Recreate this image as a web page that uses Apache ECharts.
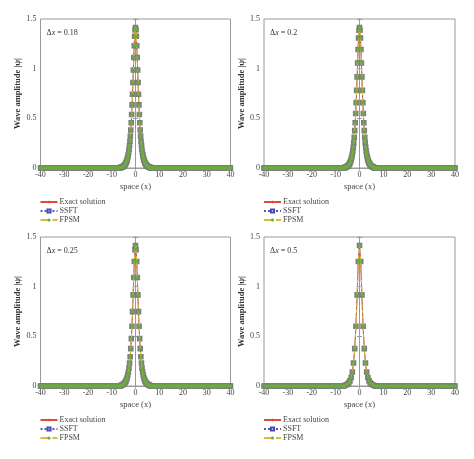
<!DOCTYPE html>
<html><head><meta charset="utf-8">
<script src="https://cdn.jsdelivr.net/npm/echarts@6/dist/echarts.min.js"></script>
<style>html,body{margin:0;padding:0;background:#fff}#c{width:474px;height:459px}</style>
</head><body><div id="c"></div>
<script>
// Sample grid per panel (start, step) and labels
const gridStarts = [-39.96, -40, -40, -40];
const gridSteps = [0.18, 0.2, 0.25, 0.5];
const stepLabels = ['0.18', '0.2', '0.25', '0.5'];
const seriesNames = ['Exact solution', 'SSFT', 'FPSM'];
const xTicks = [-40, -30, -20, -10, 0, 10, 20, 30, 40];
const yTicks = [0, 0.5, 1, 1.5];

// Wave amplitude |psi| (dx = 0.18)
const amp018 = [
0,0,0,0,0,0,0,0,0,0,0,0,0,0,0,0,0,0,0,0,
0,0,0,0,0,0,0,0,0,0,0,0,0,0,0,0,0,0,0,0,
0,0,0,0,0,0,0,0,0,0,0,0,0,0,0,0,0,0,0,0,
0,0,0,0,0,0,0,0,0,0,0,0,0,0,0,0,0,0,0,0,
0,0,0,0,0,0,0,0,0,0,0,0,0,0,0,0,0,0,0,0,
0,0,0,0,0,0,0,0,0,0,0,0,0,0,0,0,0,0,0,0,
0,0,0,0,0,0,0,0,0,0,0,0,0,0,0,0,0,0,0,0,
0,0,0,0,0,0,0,0,0,0,0,0,0,0,0,0,0,0,0,0,
0,0,0,0,0,0,0,0,0,0,0,0,0,0,0,0,0,0,0,0,
0,0,0,0,0,0,0,
0.005,0.006,0.007,0.009,0.011,0.013,0.015,0.018,0.022,0.026,0.031,0.038,0.045,0.054,0.065,0.077,0.092,0.111,0.132,0.158,0.189,0.226,0.270,0.322,0.383,0.455,0.539,0.635,0.743,0.861,0.987,1.113,1.230,1.327,1.392,
1.414,
1.392,1.327,1.230,1.113,0.987,0.861,0.743,0.635,0.539,0.455,0.383,0.322,0.270,0.226,0.189,0.158,0.132,0.111,0.092,0.077,0.065,0.054,0.045,0.038,0.031,0.026,0.022,0.018,0.015,0.013,0.011,0.009,0.007,0.006,0.005,
0,0,0,0,0,0,0,0,0,0,0,0,0,0,0,0,0,0,0,0,
0,0,0,0,0,0,0,0,0,0,0,0,0,0,0,0,0,0,0,0,
0,0,0,0,0,0,0,0,0,0,0,0,0,0,0,0,0,0,0,0,
0,0,0,0,0,0,0,0,0,0,0,0,0,0,0,0,0,0,0,0,
0,0,0,0,0,0,0,0,0,0,0,0,0,0,0,0,0,0,0,0,
0,0,0,0,0,0,0,0,0,0,0,0,0,0,0,0,0,0,0,0,
0,0,0,0,0,0,0,0,0,0,0,0,0,0,0,0,0,0,0,0,
0,0,0,0,0,0,0,0,0,0,0,0,0,0,0,0,0,0,0,0,
0,0,0,0,0,0,0,0,0,0,0,0,0,0,0,0,0,0,0,0,
0,0,0,0,0,0,0
];

// dx = 0.2
const amp02 = [
0,0,0,0,0,0,0,0,0,0,0,0,0,0,0,0,0,0,0,0,
0,0,0,0,0,0,0,0,0,0,0,0,0,0,0,0,0,0,0,0,
0,0,0,0,0,0,0,0,0,0,0,0,0,0,0,0,0,0,0,0,
0,0,0,0,0,0,0,0,0,0,0,0,0,0,0,0,0,0,0,0,
0,0,0,0,0,0,0,0,0,0,0,0,0,0,0,0,0,0,0,0,
0,0,0,0,0,0,0,0,0,0,0,0,0,0,0,0,0,0,0,0,
0,0,0,0,0,0,0,0,0,0,0,0,0,0,0,0,0,0,0,0,
0,0,0,0,0,0,0,0,0,0,0,0,0,0,0,0,0,0,0,0,
0,0,0,0,0,0,0,0,0,0,
0.007,0.009,0.011,0.013,0.016,0.019,0.023,0.028,0.035,0.042,0.052,0.063,0.077,0.094,0.115,0.141,0.171,0.209,0.255,0.310,0.376,0.455,0.549,0.658,0.781,0.917,1.057,1.193,1.308,1.386,
1.414,
1.386,1.308,1.193,1.057,0.917,0.781,0.658,0.549,0.455,0.376,0.310,0.255,0.209,0.171,0.141,0.115,0.094,0.077,0.063,0.052,0.042,0.035,0.028,0.023,0.019,0.016,0.013,0.011,0.009,0.007,
0,0,0,0,0,0,0,0,0,0,0,0,0,0,0,0,0,0,0,0,
0,0,0,0,0,0,0,0,0,0,0,0,0,0,0,0,0,0,0,0,
0,0,0,0,0,0,0,0,0,0,0,0,0,0,0,0,0,0,0,0,
0,0,0,0,0,0,0,0,0,0,0,0,0,0,0,0,0,0,0,0,
0,0,0,0,0,0,0,0,0,0,0,0,0,0,0,0,0,0,0,0,
0,0,0,0,0,0,0,0,0,0,0,0,0,0,0,0,0,0,0,0,
0,0,0,0,0,0,0,0,0,0,0,0,0,0,0,0,0,0,0,0,
0,0,0,0,0,0,0,0,0,0,0,0,0,0,0,0,0,0,0,0,
0,0,0,0,0,0,0,0,0,0
];

// dx = 0.25
const amp025 = [
0,0,0,0,0,0,0,0,0,0,0,0,0,0,0,0,0,0,0,0,
0,0,0,0,0,0,0,0,0,0,0,0,0,0,0,0,0,0,0,0,
0,0,0,0,0,0,0,0,0,0,0,0,0,0,0,0,0,0,0,0,
0,0,0,0,0,0,0,0,0,0,0,0,0,0,0,0,0,0,0,0,
0,0,0,0,0,0,0,0,0,0,0,0,0,0,0,0,0,0,0,0,
0,0,0,0,0,0,0,0,0,0,0,0,0,0,0,0,0,0,0,0,
0,0,0,0,0,0,0,0,0,0,0,0,0,0,0,0,
0.007,0.009,0.012,0.015,0.019,0.025,0.031,0.040,0.052,0.067,0.085,0.110,0.141,0.180,0.231,0.295,0.376,0.477,0.601,0.749,0.917,1.092,1.254,1.371,
1.414,
1.371,1.254,1.092,0.917,0.749,0.601,0.477,0.376,0.295,0.231,0.180,0.141,0.110,0.085,0.067,0.052,0.040,0.031,0.025,0.019,0.015,0.012,0.009,0.007,
0,0,0,0,0,0,0,0,0,0,0,0,0,0,0,0,0,0,0,0,
0,0,0,0,0,0,0,0,0,0,0,0,0,0,0,0,0,0,0,0,
0,0,0,0,0,0,0,0,0,0,0,0,0,0,0,0,0,0,0,0,
0,0,0,0,0,0,0,0,0,0,0,0,0,0,0,0,0,0,0,0,
0,0,0,0,0,0,0,0,0,0,0,0,0,0,0,0,0,0,0,0,
0,0,0,0,0,0,0,0,0,0,0,0,0,0,0,0,0,0,0,0,
0,0,0,0,0,0,0,0,0,0,0,0,0,0,0,0
];

// dx = 0.5
const amp05 = [
0,0,0,0,0,0,0,0,0,0,0,0,0,0,0,0,0,0,0,0,
0,0,0,0,0,0,0,0,0,0,0,0,0,0,0,0,0,0,0,0,
0,0,0,0,0,0,0,0,0,0,0,0,0,0,0,0,0,0,0,0,
0,0,0,0,0,0,0,0,
0.007,0.012,0.019,0.031,0.052,0.085,0.141,0.231,0.376,0.601,0.917,1.254,
1.414,
1.254,0.917,0.601,0.376,0.231,0.141,0.085,0.052,0.031,0.019,0.012,0.007,
0,0,0,0,0,0,0,0,0,0,0,0,0,0,0,0,0,0,0,0,
0,0,0,0,0,0,0,0,0,0,0,0,0,0,0,0,0,0,0,0,
0,0,0,0,0,0,0,0,0,0,0,0,0,0,0,0,0,0,0,0,
0,0,0,0,0,0,0,0
];

const panelValues = [amp018, amp02, amp025, amp05];

const FONT = '"Liberation Serif","DejaVu Serif",serif';
const chart = echarts.init(document.getElementById('c'), null, {renderer: 'canvas'});

const layout = [
  {left: 40.5, top: 19, width: 190, height: 149},
  {left: 264, top: 19, width: 191, height: 149},
  {left: 40.5, top: 237, width: 190, height: 149},
  {left: 264, top: 237, width: 191, height: 149}
];

const grids = [], xAxes = [], yAxes = [], series = [], legends = [], titles = [];
const axisCol = '#9a9a9a';
const labelStyle = {fontFamily: FONT, fontSize: 8, color: '#444'};

layout.forEach((g, p) => {
  grids.push({left: g.left, top: g.top, width: g.width, height: g.height, show: true, borderColor: axisCol, borderWidth: 1, backgroundColor: 'transparent'});
  const xBase = {type: 'value', gridIndex: p, min: xTicks[0], max: xTicks[xTicks.length - 1], interval: 10,
    splitLine: {show: false}, axisLine: {lineStyle: {color: axisCol}}, axisTick: {inside: true, length: 2.5, lineStyle: {color: axisCol}}};
  xAxes.push(Object.assign({}, xBase, {position: 'bottom', axisLabel: Object.assign({margin: 3}, labelStyle),
    name: 'space (x)', nameLocation: 'middle', nameGap: 14, nameTextStyle: {fontFamily: FONT, fontSize: 8.5, color: '#444'}}));
  xAxes.push(Object.assign({}, xBase, {position: 'top', axisLabel: {show: false}}));
  const yBase = {type: 'value', gridIndex: p, min: yTicks[0], max: yTicks[yTicks.length - 1], interval: 0.5,
    splitLine: {show: false}, axisLine: {show: true, lineStyle: {color: axisCol}}, axisTick: {inside: true, length: 2.5, lineStyle: {color: axisCol}}};
  yAxes.push(Object.assign({}, yBase, {position: 'left', axisLabel: Object.assign({margin: 4}, labelStyle),
    name: 'Wave amplitude |ψ|', nameLocation: 'middle', nameGap: 14, nameRotate: 90,
    nameTextStyle: {fontFamily: FONT, fontSize: 8.5, fontWeight: 'bold', color: '#333'}}));
  yAxes.push(Object.assign({}, yBase, {position: 'right', axisLabel: {show: false}}));

  const ys = panelValues[p];
  const x0 = gridStarts[p], dx = gridSteps[p];
  const pts = ys.map((y, i) => [+(x0 + i * dx).toFixed(4), y]);
  const common = {type: 'line', xAxisIndex: 2 * p, yAxisIndex: 2 * p, data: pts, showAllSymbol: true, animation: false, silent: true};
  series.push(Object.assign({}, common, {name: seriesNames[0],
    symbol: 'path://M4,0H6V4H10V6H6V10H4V6H0V4H4Z', symbolSize: 4,
    lineStyle: {color: '#e04a3a', width: 1}, itemStyle: {color: '#e04a3a'}, z: 2}));
  series.push(Object.assign({}, common, {name: seriesNames[1],
    symbol: 'emptyRect', symbolSize: 3.6,
    lineStyle: {color: '#5a5ab0', width: 0.8, type: 'dotted'}, itemStyle: {color: '#7b8078', borderColor: '#7b8078', borderWidth: 0.8}, z: 3}));
  series.push(Object.assign({}, common, {name: seriesNames[2],
    symbol: 'circle', symbolSize: 3,
    lineStyle: {color: '#d6bf3c', width: 1, type: 'dashed'}, itemStyle: {color: '#6aae3c'}, z: 4}));

  legends.push({orient: 'vertical', left: g.left - 1, top: g.top + g.height + 30, itemWidth: 17, itemHeight: 4, itemGap: 1,
    data: [
      {name: seriesNames[0]},
      {name: seriesNames[1], itemStyle: {color: '#4a4ab4', borderColor: '#4a4ab4', borderWidth: 1}},
      {name: seriesNames[2]}
    ], selectedMode: false, textStyle: {fontFamily: FONT, fontSize: 8, color: '#444', padding: [0, 0, 0, -3]}, padding: 0});
  titles.push({text: '{a|Δ}{b|x}{a| = ' + stepLabels[p] + '}', left: g.left + 6, top: g.top + 10, padding: 0,
    textStyle: {fontWeight: 'normal', rich: {a: {fontFamily: FONT, fontSize: 8, fontWeight: 'normal', color: '#333'}, b: {fontFamily: FONT, fontSize: 8, fontStyle: 'italic', fontWeight: 'normal', color: '#333'}}}});
});

chart.setOption({animation: false, backgroundColor: '#fff', title: titles, grid: grids, xAxis: xAxes, yAxis: yAxes, legend: legends, series: series});
</script>
</body></html>
